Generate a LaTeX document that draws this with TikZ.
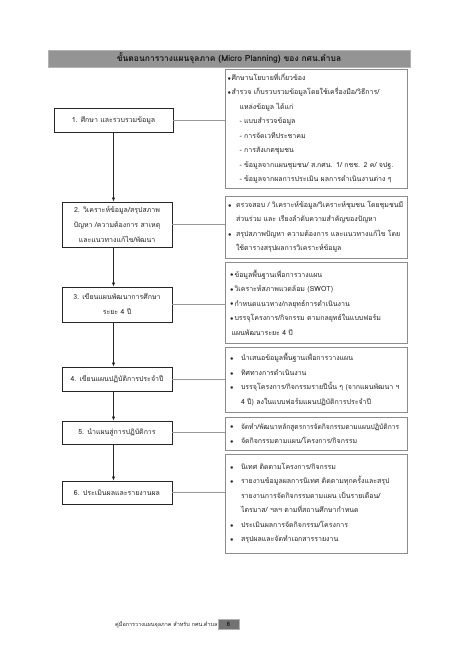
\documentclass[tikz,border=0pt]{standalone}
\usepackage{fontspec}
\usepackage{graphicx}
\setmainfont[Script=Thai]{Loma}
\usetikzlibrary{arrows.meta}
\newcommand\bul[1]{\makebox[#1][l]{\raisebox{0.2pt}{\scalebox{0.85}{$\bullet$}}}}
\begin{document}
\begin{tikzpicture}[x=1pt,y=-1pt,
  titlebar/.style={fill=black!42, draw=black!30, line width=0.4pt, minimum width=362pt, minimum height=17pt, inner sep=0pt, font=\fontsize{8.5}{10}\selectfont\bfseries, text=black!90},
  leftbox/.style={draw=black!85, line width=0.7pt, minimum width=110pt, align=center, inner sep=0pt, font=\fontsize{7}{15}\selectfont, text=black!85},
  rightbox/.style={draw=black!45, line width=0.6pt, text width=172pt, inner xsep=5pt, inner ysep=0pt, align=left, font=\fontsize{7}{14.5}\selectfont, text=black!85},
  flow/.style={-{Latex[length=4pt,width=3.2pt]}, line width=0.6pt, draw=black!85},
  link/.style={draw=black!40, line width=0.5pt},
  pagebox/.style={fill=black!55, draw=black!30, minimum width=21pt, minimum height=10pt, inner sep=0pt, font=\fontsize{6}{7}\selectfont},
  foot/.style={font=\fontsize{5.5}{7}\selectfont, inner sep=0pt, text=black!85}
]
\useasboundingbox[fill=white] (0,0) rectangle (474,670);

\node[titlebar] (title) at (229,58.5) {ขั้นตอนการวางแผนจุลภาค (Micro Planning) ของ กศน.ตำบล};

% left column
\node[leftbox, minimum width=119pt, minimum height=24pt] (L1) at (113.5,120) {1. ศึกษา และรวบรวมข้อมูล};
\node[leftbox, minimum height=45pt] (L2) at (117,224.5) {2. วิเคราะห์ข้อมูล/สรุปสภาพ\\ปัญหา /ความต้องการ สาเหตุ\\และแนวทางแก้ไข/พัฒนา};
\node[leftbox, minimum height=35pt] (L3) at (117,304.5) {3. เขียนแผนพัฒนาการศึกษา\\ระยะ 4 ปี};
\node[leftbox, minimum height=24pt] (L4) at (117,379) {4. เขียนแผนปฏิบัติการประจำปี};
\node[leftbox, minimum height=23pt] (L5) at (117,432.5) {5. นำแผนสู่การปฏิบัติการ};
\node[leftbox, minimum height=23pt] (L6) at (117,492.5) {6. ประเมินผลและรายงานผล};

\coordinate (spine) at (113.5,0);

% right column
\node[rightbox, inner xsep=2.5pt, text width=177pt, minimum height=119pt] (R1) at (316,128.5) {%
\bul{4pt}ศึกษานโยบายที่เกี่ยวข้อง\\
\bul{4pt}สำรวจ เก็บรวบรวมข้อมูลโดยใช้เครื่องมือ/วิธีการ/\\
\hspace*{12pt}แหล่งข้อมูล ได้แก่\\
\hspace*{12pt}- แบบสำรวจข้อมูล\\
\hspace*{12pt}- การจัดเวทีประชาคม\\
\hspace*{12pt}- การสังเกตชุมชน\\
\hspace*{12pt}- ข้อมูลจากแผนชุมชน/ ส.กศน. 1/ กชช. 2 ค/ จปฐ.\\
\hspace*{12pt}- ข้อมูลจากผลการประเมิน ผลการดำเนินงานต่าง ๆ};

\node[rightbox, inner xsep=3pt, text width=176pt, minimum height=62pt] (R2) at (316,227) {%
\bul{8pt}\mbox{ตรวจสอบ / วิเคราะห์ข้อมูล/วิเคราะห์ชุมชน โดยชุมชนมี}\\
\hspace*{8pt}ส่วนร่วม และ เรียงลำดับความสำคัญของปัญหา\\
\bul{8pt}\mbox{สรุปสภาพปัญหา ความต้องการ และแนวทางแก้ไข โดย}\\
\hspace*{8pt}ใช้ตารางสรุปผลการวิเคราะห์ข้อมูล};

\node[rightbox, minimum height=81pt] (R3) at (316,302.5) {%
\bul{4.5pt}ข้อมูลพื้นฐานเพื่อการวางแผน\\
\bul{4.5pt}วิเคราะห์สภาพแวดล้อม (SWOT)\\
\bul{4.5pt}กำหนดแนวทาง/กลยุทธ์การดำเนินงาน\\
\bul{4.5pt}บรรจุโครงการ/กิจกรรม ตามกลยุทธ์ในแบบฟอร์ม\\
\hspace*{1.5pt}แผนพัฒนาระยะ 4 ปี};

\node[rightbox, minimum height=65pt] (R4) at (316,379.5) {%
\bul{11pt}นำเสนอข้อมูลพื้นฐานเพื่อการวางแผน\\
\bul{11pt}ทิศทางการดำเนินงาน\\
\bul{11pt}\mbox{บรรจุโครงการ/กิจกรรมรายปีนั้น ๆ (จากแผนพัฒนา ฯ}\\
\hspace*{11pt}4 ปี) ลงในแบบฟอร์มแผนปฏิบัติการประจำปี};

\node[rightbox, minimum height=33pt] (R5) at (316,433.5) {%
\bul{11pt}\scalebox{0.95}[1]{จัดทำ/พัฒนาหลักสูตรการจัดกิจกรรมตามแผนปฏิบัติการ}\\
\bul{11pt}จัดกิจกรรมตามแผน/โครงการ/กิจกรรม};

\node[rightbox, minimum height=99pt] (R6) at (316,503.5) {%
\bul{11pt}นิเทศ ติดตามโครงการ/กิจกรรม\\
\bul{11pt}รายงานข้อมูลผลการนิเทศ ติดตามทุกครั้งและสรุป\\
\hspace*{11pt}รายงานการจัดกิจกรรมตามแผน เป็นรายเดือน/\\
\hspace*{11pt}ไตรมาส/ ฯลฯ ตามที่สถานศึกษากำหนด\\
\bul{11pt}ประเมินผลการจัดกิจกรรม/โครงการ\\
\bul{11pt}สรุปผลและจัดทำเอกสารรายงาน};

% vertical flow
\draw[flow] (L1.south) -- (L2.north -| spine);
\draw[flow] (L2.south -| spine) -- (L3.north -| spine);
\draw[flow] (L3.south -| spine) -- (L4.north -| spine);
\draw[flow] (L4.south -| spine) -- (L5.north -| spine);
\draw[flow] (L5.south -| spine) -- (L6.north -| spine);

% links to detail boxes
\foreach \i in {1,...,6} {
  \draw[link] (L\i.east) -- (L\i.east -| R\i.west);
}

% footer
\node[foot, anchor=west] (footer) at (115,625) {คู่มือการวางแผนจุลภาค สำหรับ กศน.ตำบล};
\node[pagebox] (page) at (228.5,624.5) {6};
\end{tikzpicture}
\end{document}
